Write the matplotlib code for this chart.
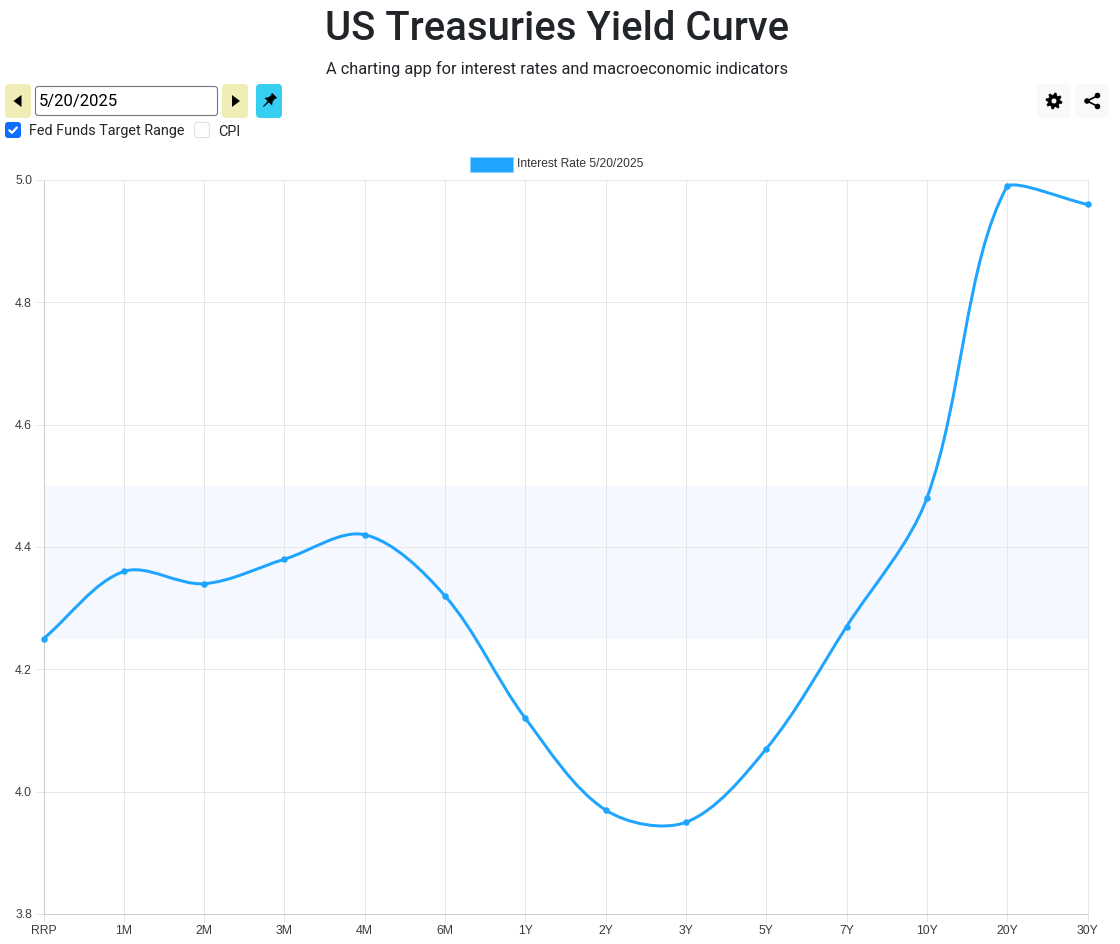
import numpy as np
import matplotlib
matplotlib.use("Agg")
import matplotlib.pyplot as plt
from matplotlib.path import Path
from matplotlib.patches import PathPatch, FancyBboxPatch, Polygon, Circle, Rectangle

# ---- data ----
maturities = ["RRP", "1M", "2M", "3M", "4M", "6M", "1Y", "2Y", "3Y", "5Y", "7Y", "10Y", "20Y", "30Y"]
yields = [4.25, 4.36, 4.34, 4.38, 4.42, 4.32, 4.12, 3.97, 3.95, 4.07, 4.27, 4.48, 4.99, 4.96]
fed_low, fed_high = 4.25, 4.50
y_ticks = [3.8, 4.0, 4.2, 4.4, 4.6, 4.8, 5.0]
series_label = "Interest Rate 5/20/2025"
date_text = "5/20/2025"
tension = 0.33

W, H = 1120, 944
BLUE = "#1fa5ff"
GRID = "#e6e6e6"
TXT = "#3c3c3c"
UI = "Roboto"
CHART = "Liberation Sans"
px = 0.72  # points per pixel at dpi 100

fig = plt.figure(figsize=(W / 100, H / 100), dpi=100, facecolor="white")
L, R, T, B = 43.5, 1087.5, 180, 914
ax = fig.add_axes([L / W, 1 - B / H, (R - L) / W, (B - T) / H])
xs = np.arange(len(maturities), dtype=float)
ys = np.array(yields)
ax.set_xlim(0, len(maturities) - 1)
ax.set_ylim(3.8, 5.0)
ax.set_xticks(xs, maturities)
ax.set_yticks(y_ticks, [f"{v:.1f}" for v in y_ticks])
ax.grid(True, color=GRID, lw=0.72)
ax.set_axisbelow(True)
ax.tick_params(length=8 * px, width=0.72, color=GRID, labelcolor=TXT, labelsize=12.2 * px, pad=2.5)
for lab in ax.get_xticklabels() + ax.get_yticklabels():
    lab.set_fontfamily(CHART)
for side, sp in ax.spines.items():
    sp.set_color(GRID)
    sp.set_linewidth(0.72)
ax.spines["bottom"].set_color("#cccccc")
ax.spines["left"].set_color("#cccccc")

# Fed funds target band
ax.axhspan(fed_low, fed_high, color="#f5f9ff", zorder=0.5, lw=0)

# Chart.js style cubic spline computed in pixel space, control points capped to the chart area
sx = (R - L) / (len(maturities) - 1)
sy = (B - T) / (ax.get_ylim()[1] - ax.get_ylim()[0])
P = np.column_stack([xs * sx, ys * sy])
n = len(P)
c_in, c_out = [None] * n, [None] * n
lo, hi = ax.get_ylim()
def cap(q):
    return np.array([np.clip(q[0], 0, (n - 1) * sx), np.clip(q[1], lo * sy, hi * sy)])
for i in range(n):
    prev = P[max(i - 1, 0)]
    nxt = P[min(i + 1, n - 1)]
    d01 = np.hypot(*(P[i] - prev))
    d12 = np.hypot(*(nxt - P[i]))
    tot = d01 + d12
    c_in[i] = cap(P[i] - tension * d01 / tot * (nxt - prev))
    c_out[i] = cap(P[i] + tension * d12 / tot * (nxt - prev))
verts = [tuple(P[0] / [sx, sy])]
codes = [Path.MOVETO]
for i in range(n - 1):
    for q in (c_out[i], c_in[i + 1], P[i + 1]):
        verts.append(tuple(q / [sx, sy]))
        codes.append(Path.CURVE4)
ax.add_patch(PathPatch(Path(verts, codes), fc="none", ec=BLUE, lw=3 * px, clip_on=False, zorder=3))
ax.plot(xs, ys, ls="none", marker="o", ms=6.5 * px, mfc=BLUE, mec=BLUE, mew=0, clip_on=False, zorder=4)

# ---- page chrome, in pixel coordinates ----
ov = fig.add_axes([0, 0, 1, 1], zorder=5)
ov.set_xlim(0, W); ov.set_ylim(H, 0); ov.axis("off"); ov.patch.set_alpha(0)

def box(x, y, w, h, fc, ec="none", r=4, lw=0):
    ov.add_patch(FancyBboxPatch((x + r, y + r), w - 2 * r, h - 2 * r,
                                boxstyle=f"round,pad={r},rounding_size={r}", fc=fc, ec=ec, lw=lw))

ov.text(557, 29.5, "US Treasuries Yield Curve", ha="center", va="center", family=UI,
        fontsize=40 * px, fontweight="medium", color="#212529")
ov.text(557, 68.5, "A charting app for interest rates and macroeconomic indicators", ha="center",
        va="center", family=UI, fontsize=16.4 * px, color="#212529")

YEL = "#f0edb7"
box(5, 84, 26, 34, YEL)
ov.add_patch(Polygon([[21.5, 95], [21.5, 107], [13.5, 101]], fc="black"))
box(35.5, 86.5, 182, 29, "white", ec="#767676", r=3, lw=0.8)
ov.text(39, 101.5, date_text, ha="left", va="center", family=UI, fontsize=16.6 * px, color="black")
box(222, 84, 26, 34, YEL)
ov.add_patch(Polygon([[232, 95], [232, 107], [240, 101]], fc="black"))
box(256, 84, 26, 34, "#36cff2")
# pin icon: head, collar and needle, turned 45 degrees
th = np.radians(45)
rot = np.array([[np.cos(th), -np.sin(th)], [np.sin(th), np.cos(th)]])
pin = np.array([[-3.2, -7], [3.2, -7], [3.2, -6], [2.4, -6], [2.8, -1.2], [5, 1.6], [0.6, 1.6],
                [0.2, 8.5], [-0.2, 8.5], [-0.6, 1.6], [-5, 1.6], [-2.8, -1.2], [-2.4, -6], [-3.2, -6]])
ov.add_patch(Polygon(pin @ rot.T + [269.5, 100.5], fc="black", ec="black", lw=0.3))

# checkboxes
box(5, 122, 16, 16, "#0d6efd", r=3)
ov.plot([9.3, 12, 16.8], [130.3, 132.8, 127.6], color="white", lw=1.6, solid_capstyle="round")
ov.text(29, 131.5, "Fed Funds Target Range", ha="left", va="center", family=UI, fontsize=14.4 * px, color="#212529")
box(194.5, 122.5, 15, 15, "white", ec="#dee2e6", r=3, lw=0.8)
ov.text(218, 131.5, "CPI", ha="left", va="center", family=UI, fontsize=14.4 * px, color="#212529")

# settings and share buttons
box(1037, 84, 34, 34, "#f8f9fa", r=5)
box(1075, 84, 34, 34, "#f8f9fa", r=5)
ang = np.radians(np.arange(0, 360, 45 / 4) + 22.5 / 4)
rad = np.tile([8.2, 8.2, 6.0, 6.0], 8)
ox = 1054 + rad * np.cos(ang); oy = 101 + rad * np.sin(ang)
t = np.linspace(0, 2 * np.pi, 40)
ix = 1054 + 2.7 * np.cos(t[::-1]); iy = 101 + 2.7 * np.sin(t[::-1])
gear_v = np.vstack([np.column_stack([ox, oy]), [[ox[0], oy[0]]], np.column_stack([ix, iy])])
gear_c = [Path.MOVETO] + [Path.LINETO] * (len(ox) - 1) + [Path.CLOSEPOLY] + [Path.MOVETO] + [Path.LINETO] * (len(ix) - 1)
ov.add_patch(PathPatch(Path(gear_v, gear_c), fc="black", ec="black", lw=0.3))
ov.plot([1098, 1087, 1098], [95.5, 101, 106.5], color="black", lw=1.2)
for cx, cy in [(1097.5, 95.5), (1087, 101), (1097.5, 106.5)]:
    ov.add_patch(Circle((cx, cy), 2.8, fc="black"))

# legend
ov.add_patch(Rectangle((469.5, 156.5), 43, 15, fc=BLUE, ec="#8fd2ff", lw=0.5))
ov.text(517, 164, series_label, ha="left", va="center", family=CHART, fontsize=12 * px, color="#333333")

fig.savefig("out.png", dpi=100, facecolor="white")
